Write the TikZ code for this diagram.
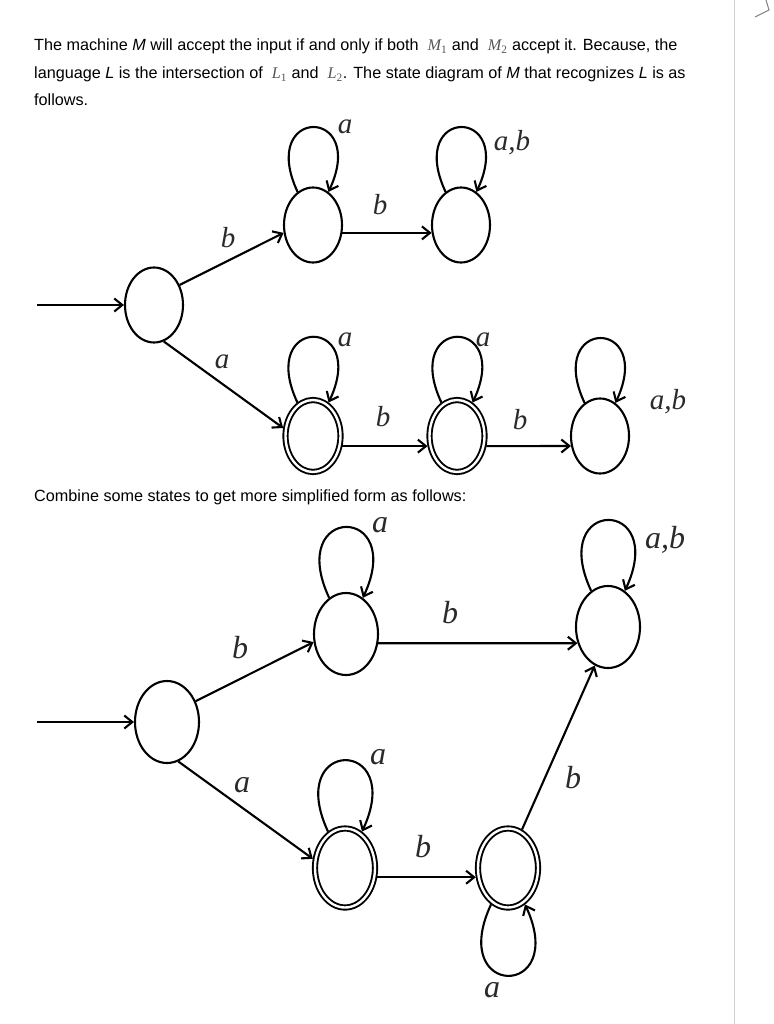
\documentclass[tikz,border=0pt]{standalone}
\usepackage{fontspec}
\setmainfont{Liberation Sans}
\newfontfamily\lblfont{Liberation Serif}
\usetikzlibrary{arrows.meta,shapes.geometric}
\definecolor{SymGray}{HTML}{555555}
\definecolor{EdgeGray}{HTML}{CFCFCF}
\definecolor{LblGray}{HTML}{2A2A2A}
\newcommand{\subsym}[2]{{\lblfont\color{SymGray}\itshape #1\textsubscript{\upshape #2}}}
\tikzset{
  state/.style={ellipse, draw, line width=2.1pt, minimum width=58pt, minimum height=75pt, inner sep=0pt},
  bigstate/.style={state, minimum width=64pt, minimum height=82pt},
  accept/.style={double, line width=1.9pt, double distance=2.4pt, outer sep=3pt},
  trans/.style={-{Straight Barb[length=8pt,width=13pt]}, line width=2.1pt},
  lbl/.style={text=LblGray, font=\lblfont\itshape\fontsize{29}{29}\selectfont, inner sep=0pt},
  biglbl/.style={lbl, font=\lblfont\itshape\fontsize{32}{32}\selectfont},
  para/.style={anchor=base west, font=\fontsize{16.2}{19}\selectfont, inner sep=0pt},
  loopup/.style={out=115, in=65, looseness=7.9},
  loopdown/.style={out=-115, in=-65, looseness=7.9}
}
\begin{document}
\begin{tikzpicture}[x=1pt,y=1pt]
\useasboundingbox (0,0) rectangle (773,-1024);
% page edge
\draw[EdgeGray, line width=1pt] (734,0) -- (734,-1024);
\draw[gray, line width=1pt] (755,-17) -- (769,-10) -- (766,0);
% text
\node[para] (t1) at (34,-51) {The machine \textit{M} will accept the input if and only if both \ \subsym{M}{1} and \ \subsym{M}{2} accept it. Because, the};
\node[para] (t2) at (34,-79) {language \textit{L} is the intersection of \ \subsym{L}{1} and \ \subsym{L}{2}. The state diagram of \textit{M} that recognizes \textit{L} is as};
\node[para] (t3) at (34,-106) {follows.};
\node[para] (t4) at (34,-501) {Combine some states to get more simplified form as follows:};
% product machine
\node[state] (a0) at (154,-305) {};
\node[state] (a1) at (313,-225) {};
\node[state] (a2) at (461,-225) {};
\node[state,accept,minimum width=55pt,minimum height=72pt] (a3) at (313,-436) {};
\node[state,accept,minimum width=55pt,minimum height=72pt] (a4) at (457,-436) {};
\node[state] (a5) at (600,-436) {};
\coordinate (ain) at (37,-305);
\draw[trans] (ain) -- (a0);
\draw[trans] (a0.38) -- (a1.195);
\draw[trans] (a0.-75) -- (a3.165);
\draw[trans] (a1.-15) -- (a2.195);
\draw[trans] (a3.-19) -- (a4.199);
\draw[trans] (a4.-19) -- (a5.199);
\draw[trans] (a1) to[loopup] (a1);
\draw[trans] (a2) to[loopup] (a2);
\draw[trans] (a3) to[loopup] (a3);
\draw[trans] (a4) to[loopup] (a4);
\draw[trans] (a5) to[loopup] (a5);
\node[lbl] (la1) at (345,-127) {a};
\node[lbl] (la2) at (512,-143) {a,b};
\node[lbl] (lb12) at (380,-205) {b};
\node[lbl] (lb01) at (228,-238) {b};
\node[lbl] (la03) at (222,-362) {a};
\node[lbl] (la3) at (345,-340) {a};
\node[lbl] (la4) at (483,-340) {a};
\node[lbl] (lb34) at (383,-417) {b};
\node[lbl] (lb45) at (520,-420) {b};
\node[lbl] (la5) at (668,-402) {a,b};
% simplified machine
\node[bigstate] (b0) at (167,-722) {};
\node[bigstate] (b1) at (346,-634) {};
\node[bigstate] (b2) at (608,-627) {};
\node[bigstate,accept,minimum width=60pt,minimum height=79pt] (b3) at (345,-868) {};
\node[bigstate,accept,minimum width=60pt,minimum height=79pt] (b4) at (508,-868) {};
\coordinate (bin) at (37,-722);
\draw[trans] (bin) -- (b0);
\draw[trans] (b0.36) -- (b1.194);
\draw[trans] (b0.-74) -- (b3.164);
\draw[trans] (b1.-16) -- (b2.208);
\draw[trans] (b3.-16) -- (b4.196);
\draw[trans] (b4.70) -- (b2.251);
\draw[trans] (b1) to[loopup] (b1);
\draw[trans] (b2) to[loopup] (b2);
\draw[trans] (b3) to[loopup] (b3);
\draw[trans] (b4) to[loopdown] (b4);
\node[biglbl] (ma1) at (380,-525) {a};
\node[biglbl] (ma2) at (665,-540) {a,b};
\node[biglbl] (mb12) at (450,-613) {b};
\node[biglbl] (mb01) at (240,-648) {b};
\node[biglbl] (ma03) at (242,-785) {a};
\node[biglbl] (ma3) at (378,-757) {a};
\node[biglbl] (mb34) at (423,-847) {b};
\node[biglbl] (mb42) at (573,-778) {b};
\node[biglbl] (ma4) at (492,-990) {a};
\end{tikzpicture}
\end{document}
